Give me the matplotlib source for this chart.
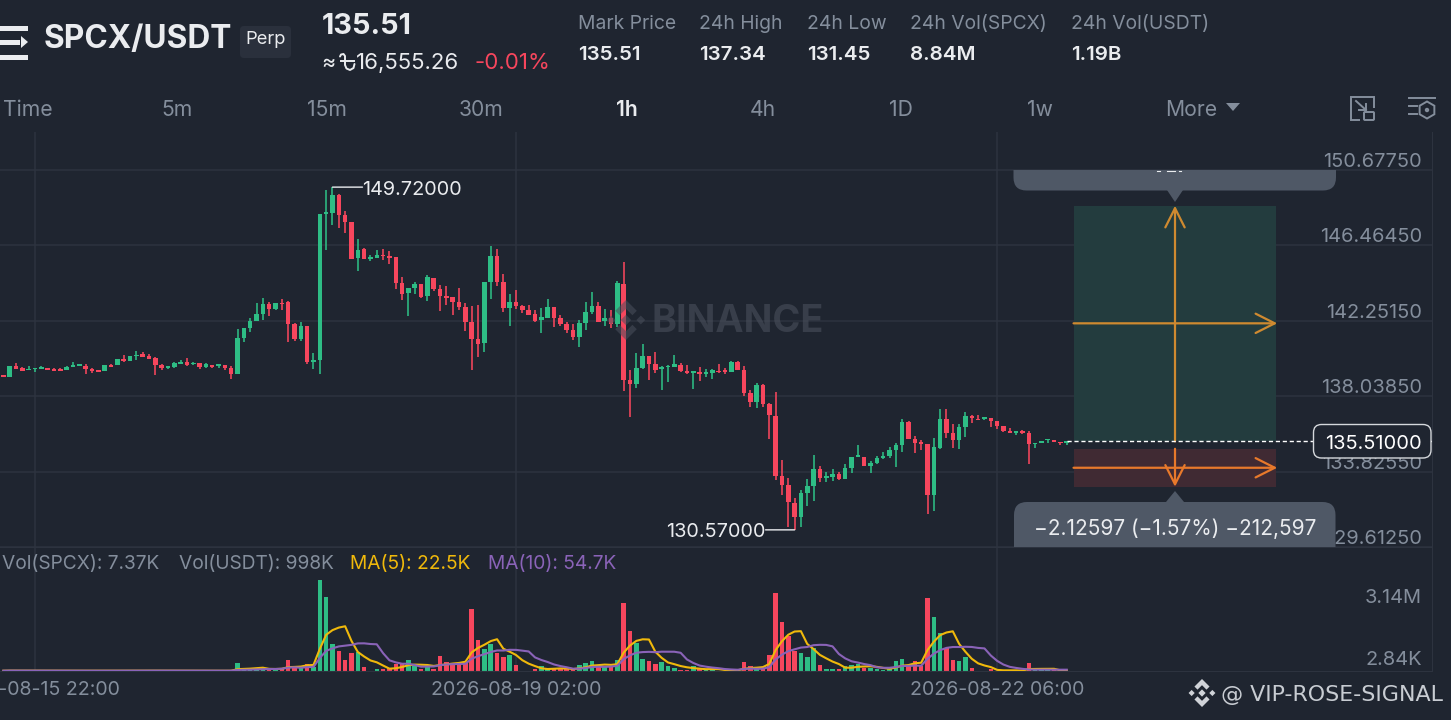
import numpy as np
import pandas as pd
import matplotlib
matplotlib.use('Agg')
import matplotlib.pyplot as plt
from matplotlib.patches import Circle, FancyBboxPatch, Polygon, Rectangle

plt.rcParams['font.family'] = ['Inter', 'Noto Sans', 'DejaVu Sans']

# candles, one hour each
opens = [139.21, 139.12, 139.75, 139.60, 139.51, 139.56, 139.56, 139.60, 139.56, 139.56,
         139.53, 139.68, 139.71, 139.75, 139.56, 139.51, 139.42, 139.77, 139.77, 140.14,
         140.01, 140.29, 140.38, 140.29, 140.16, 139.77, 139.64, 139.68, 139.86, 139.97,
         139.82, 139.88, 139.69, 139.79, 139.75, 139.77, 139.62, 139.29, 141.31, 141.85,
         142.22, 142.64, 143.18, 142.91, 143.27, 143.29, 142.06, 141.24, 141.97, 139.95,
         140.07, 148.24, 148.26, 149.26, 148.17, 147.78, 145.75, 146.25, 145.71, 145.75,
         145.93, 145.88, 145.82, 144.35, 143.79, 144.11, 144.33, 143.62, 144.67, 144.01,
         143.62, 143.60, 143.31, 143.03, 142.17, 141.24, 141.00, 144.44, 145.88, 144.40,
         142.95, 143.32, 143.08, 142.86, 142.62, 142.28, 142.43, 143.01, 142.43, 142.08,
         141.74, 141.35, 142.15, 142.77, 143.08, 142.26, 142.41, 142.08, 144.33, 138.95,
         138.71, 139.64, 140.29, 139.81, 139.54, 139.66, 139.66, 139.77, 139.43, 139.36,
         139.40, 139.27, 139.36, 139.47, 139.51, 139.38, 139.97, 139.51, 138.24, 137.72,
         138.67, 137.63, 136.94, 133.57, 133.08, 132.08, 131.31, 132.62, 133.03, 133.99,
         133.47, 133.55, 133.70, 133.42, 134.01, 134.63, 134.65, 134.13, 134.33, 134.57,
         134.70, 135.04, 135.32, 136.58, 135.67, 135.47, 135.35, 132.49, 135.17, 136.79,
         135.97, 135.60, 136.34, 136.92, 136.79, 136.79, 136.81, 136.64, 136.36, 136.08,
         135.97, 136.10, 135.99, 135.35, 135.43, 135.58, 135.58, 135.47, 135.41]
closes = [139.12, 139.75, 139.58, 139.47, 139.58, 139.64, 139.68, 139.51, 139.47, 139.45,
          139.69, 139.79, 139.82, 139.56, 139.47, 139.40, 139.77, 139.66, 140.12, 140.01,
          140.27, 140.36, 140.25, 140.14, 139.79, 139.60, 139.75, 139.88, 139.97, 139.79,
          139.92, 139.69, 139.81, 139.69, 139.82, 139.62, 139.29, 141.31, 141.87, 142.24,
          142.62, 143.18, 142.91, 143.27, 143.18, 142.06, 141.24, 141.97, 139.94, 140.05,
          148.22, 148.33, 149.26, 148.17, 147.78, 145.71, 146.21, 145.71, 145.80, 145.95,
          145.86, 145.78, 144.35, 143.77, 144.09, 144.33, 143.59, 144.70, 144.01, 143.66,
          143.55, 143.31, 143.03, 142.17, 141.24, 140.98, 144.44, 145.88, 144.40, 142.97,
          143.32, 143.08, 142.88, 142.60, 142.26, 142.45, 143.01, 142.41, 142.10, 141.72,
          141.35, 142.13, 142.77, 143.08, 142.21, 142.43, 142.10, 144.37, 138.95, 138.73,
          139.64, 140.29, 139.82, 139.51, 139.66, 139.75, 139.82, 139.42, 139.32, 139.47,
          139.29, 139.38, 139.49, 139.38, 139.38, 139.97, 139.51, 138.24, 137.72, 138.67,
          137.61, 136.96, 133.59, 133.08, 132.10, 131.31, 132.64, 133.03, 133.99, 133.47,
          133.59, 133.68, 133.42, 134.01, 134.63, 134.74, 134.13, 134.33, 134.57, 134.70,
          135.04, 135.32, 136.58, 135.67, 135.45, 135.35, 132.49, 135.19, 136.79, 135.97,
          135.60, 136.34, 136.92, 136.81, 136.71, 136.86, 136.66, 136.40, 136.08, 135.99,
          136.10, 136.01, 135.37, 135.45, 135.56, 135.67, 135.50, 135.41, 135.51]
highs = [139.23, 139.75, 139.90, 139.66, 139.73, 139.64, 139.71, 139.64, 139.60, 139.62,
         139.73, 139.96, 139.82, 139.84, 139.60, 139.53, 139.77, 139.84, 140.12, 140.33,
         140.27, 140.55, 140.51, 140.40, 140.21, 139.84, 139.75, 139.94, 140.07, 140.16,
         139.97, 139.88, 139.88, 139.79, 139.82, 139.77, 139.71, 141.80, 141.87, 142.39,
         143.23, 143.51, 143.29, 143.27, 143.45, 143.34, 142.11, 142.21, 141.97, 140.46,
         148.22, 149.54, 149.72, 149.32, 148.41, 147.78, 146.81, 146.30, 145.95, 146.19,
         146.25, 146.14, 145.82, 144.68, 144.09, 144.44, 144.33, 144.80, 144.67, 144.24,
         144.18, 143.60, 144.09, 143.23, 143.08, 143.16, 144.44, 146.45, 146.25, 144.87,
         143.75, 143.96, 143.14, 143.16, 142.84, 142.95, 143.45, 143.01, 142.60, 142.19,
         142.08, 142.30, 143.31, 143.86, 143.31, 142.90, 142.86, 144.46, 145.52, 139.51,
         140.44, 140.96, 140.29, 140.53, 139.73, 139.79, 140.36, 139.88, 139.77, 139.47,
         139.66, 139.58, 139.54, 139.82, 139.62, 140.03, 140.01, 139.71, 138.39, 138.76,
         138.72, 137.66, 138.30, 134.48, 133.47, 132.34, 132.80, 133.40, 134.76, 134.14,
         133.81, 133.96, 133.83, 134.26, 134.63, 135.32, 134.65, 134.44, 134.72, 134.93,
         135.19, 135.41, 136.75, 136.64, 135.80, 135.60, 135.35, 135.71, 137.33, 137.35,
         136.49, 136.49, 137.16, 137.00, 136.98, 136.86, 136.81, 136.64, 136.40, 136.25,
         136.10, 136.15, 136.08, 135.45, 135.56, 135.67, 135.58, 135.47, 135.51]
lows = [139.10, 139.12, 139.58, 139.47, 139.51, 139.40, 139.56, 139.51, 139.47, 139.45,
        139.53, 139.66, 139.71, 139.29, 139.34, 139.38, 139.42, 139.66, 139.77, 139.97,
        140.01, 140.07, 140.21, 140.14, 139.23, 139.51, 139.58, 139.62, 139.86, 139.75,
        139.79, 139.56, 139.62, 139.62, 139.64, 139.51, 139.01, 139.29, 141.09, 141.63,
        142.22, 142.32, 142.54, 142.86, 142.84, 141.07, 141.13, 141.13, 139.84, 139.58,
        139.30, 146.21, 147.59, 147.46, 147.14, 145.69, 145.06, 145.71, 145.61, 145.75,
        145.65, 145.45, 144.05, 143.40, 142.54, 143.73, 143.55, 143.38, 143.94, 142.82,
        143.14, 142.60, 142.88, 141.70, 139.53, 140.25, 140.51, 143.49, 144.18, 142.75,
        141.98, 142.93, 142.67, 142.60, 142.21, 141.59, 142.39, 141.89, 141.95, 141.59,
        141.20, 140.81, 141.74, 142.62, 142.19, 141.98, 141.87, 141.89, 138.35, 136.90,
        138.48, 139.54, 138.95, 139.32, 138.39, 138.85, 139.66, 139.38, 139.27, 138.45,
        138.91, 139.12, 139.01, 139.36, 139.29, 139.38, 139.51, 138.05, 137.44, 137.40,
        137.46, 135.67, 133.36, 132.52, 130.72, 130.57, 130.72, 131.93, 132.21, 133.27,
        133.27, 133.31, 133.38, 133.42, 133.73, 134.63, 134.13, 133.73, 134.26, 134.52,
        134.57, 134.07, 134.94, 135.67, 134.89, 135.04, 131.46, 131.63, 135.07, 135.73,
        135.15, 135.09, 135.78, 136.56, 136.71, 136.71, 136.32, 136.23, 136.04, 135.99,
        135.89, 135.93, 134.24, 135.15, 135.43, 135.41, 135.50, 135.32, 135.32]
# volume in thousands of SPCX
volumes = [12, 22, 15, 10, 10, 14, 8, 10, 8, 9,
           14, 16, 10, 18, 12, 9, 16, 10, 18, 14,
           14, 16, 14, 12, 24, 16, 10, 14, 12, 18,
           10, 14, 10, 9, 10, 12, 20, 332, 58, 72,
           115, 115, 87, 29, 115, 462, 159, 159, 303, 188,
           3824, 3102, 1140, 837, 462, 765, 779, 188, 14, 72,
           87, 130, 274, 274, 447, 216, 101, 216, 87, 620,
           361, 274, 346, 346, 2583, 1284, 938, 1111, 736, 591,
           664, 245, 20, 14, 87, 202, 87, 87, 72, 87,
           72, 231, 317, 433, 173, 188, 173, 462, 2843, 1659,
           1169, 505, 418, 289, 375, 202, 144, 29, 29, 202,
           87, 29, 58, 20, 20, 25, 20, 361, 202, 87,
           144, 678, 3261, 2049, 1457, 822, 750, 591, 967, 245,
           101, 72, 72, 202, 245, 289, 130, 130, 72, 29,
           101, 404, 505, 202, 404, 216, 3045, 2265, 1573, 967,
           462, 404, 606, 115, 14, 14, 72, 20, 14, 14,
           15, 20, 346, 40, 25, 25, 25, 30, 7.37]

price_ticks = [150.6775, 146.4645, 142.2515, 138.0385, 133.8255, 129.6125]
price_labels = ['150.67750', '146.46450', '142.25150', '138.03850', '133.82550', '129.61250']
time_ticks = [5, 81, 157]
time_labels = ['2026-08-15 22:00', '2026-08-19 02:00', '2026-08-22 06:00']
vol_ticks = [3140, 544]
vol_labels = ['3.14M', '2.84K']

last_price = 135.51
target_price = 148.68
stop_price = 132.98
entry_gap_price = 135.10
tool_start, tool_end, tool_mid = 169.07, 201.05, 185.1
target_line, stop_line = 142.11, 134.04

BG = '#1f2530'
GRID = '#2d333f'
GREEN = '#2ebd85'
RED = '#f6465d'
GREY = '#848e9c'
WHITE = '#eaecef'
ORANGE = '#cf8a30'
ORANGE2 = '#e8792b'
BUBBLE = '#4f5866'

W, H = 1451, 720
fig = plt.figure(figsize=(W / 100, H / 100), dpi=100, facecolor=BG)


def px_axes(left, top, right, bottom):
    return fig.add_axes([left / W, 1 - bottom / H, (right - left) / W, (bottom - top) / H])


ax = px_axes(0, 132, 1432, 547)
ax_vol = px_axes(0, 547, 1432, 671)
ui = px_axes(0, 0, W, H)
ui.set_xlim(0, W)
ui.set_ylim(H, 0)
ui.axis('off')
ui.patch.set_alpha(0)

idx = np.arange(len(opens))
opens = np.array(opens)
closes = np.array(closes)
colors = np.where(closes >= opens, GREEN, RED)

# price panel
ax.set_facecolor(BG)
ax.set_xlim(-0.526, 225.7)
ax.set_ylim(129.6125, 152.80)
ax.set_xticks([])
ax.set_yticks([])
for tick in price_ticks:
    ax.axhline(tick, color=GRID, lw=1.1, zorder=1)
for tick in time_ticks:
    ax.axvline(tick, color=GRID, lw=1.1, zorder=1)
for name in ['top', 'left', 'bottom']:
    ax.spines[name].set_visible(False)
ax.spines['right'].set_color(GRID)

ax.vlines(idx, lows, highs, colors=colors, lw=1.15, zorder=3)
ax.bar(idx, np.abs(closes - opens), bottom=np.minimum(opens, closes), width=0.72, color=colors, zorder=4)

for tick, label_text in zip(price_ticks, price_labels):
    ax.annotate(label_text, xy=(1, tick), xycoords=('axes fraction', 'data'), xytext=(-10, 8),
                textcoords='offset pixels', ha='right', va='center', color=GREY, fontsize=14.4)

# high / low labels, leader drawn apart so it stays level
leader = dict(arrowstyle='-', color=WHITE, lw=1, shrinkA=0, shrinkB=0)
ax.annotate('', xy=(52, max(highs)), xytext=(30, 0), textcoords='offset pixels', arrowprops=leader)
ax.annotate('149.72000', xy=(52, max(highs)), xytext=(30, -2.5), textcoords='offset pixels', ha='left', va='center',
            color=WHITE, fontsize=14.3)
ax.annotate('', xy=(125, min(lows)), xytext=(-29, 0), textcoords='offset pixels', arrowprops=leader)
ax.annotate('130.57000', xy=(125, min(lows)), xytext=(-29, -2.5), textcoords='offset pixels', ha='right', va='center',
            color=WHITE, fontsize=14.3)

# position tool
ax.fill_between([tool_start, tool_end], last_price, target_price, color='#233c3e', lw=0, zorder=2)
ax.fill_between([tool_start, tool_end], stop_price, entry_gap_price, color='#402a33', lw=0, zorder=2)
head = '->,head_length=1.15,head_width=0.58'
for start, end, color in [((tool_start, target_line), (tool_end + 0.2, target_line), ORANGE),
                          ((tool_mid, last_price), (tool_mid, target_price), ORANGE),
                          ((tool_start, stop_line), (tool_end + 0.2, stop_line), ORANGE2),
                          ((tool_mid, entry_gap_price), (tool_mid, stop_price), ORANGE2)]:
    ax.annotate('', xy=end, xytext=start, zorder=5,
                arrowprops=dict(arrowstyle=head, mutation_scale=12, color=color, lw=1.6, shrinkA=0, shrinkB=0))
ax.plot([len(opens) - 1, 225.7], [last_price, last_price], color='white', lw=1, ls=(0, (3, 2)), zorder=6)

# volume panel
ax_vol.set_facecolor(BG)
ax_vol.set_xlim(-0.526, 225.7)
ax_vol.set_ylim(0, 5192)
ax_vol.set_xticks([])
ax_vol.set_yticks([])
for tick in time_ticks:
    ax_vol.axvline(tick, color=GRID, lw=1.1, zorder=1)
ax_vol.spines['left'].set_visible(False)
for name in ['top', 'right', 'bottom']:
    ax_vol.spines[name].set_color(GRID)
ax_vol.bar(idx, volumes, width=0.72, color=colors, zorder=2)
vol_series = pd.Series(volumes)
ax_vol.plot(idx, vol_series.rolling(5, min_periods=1).mean(), color='#f0b90b', lw=1.5, zorder=3)
ax_vol.plot(idx, vol_series.rolling(10, min_periods=1).mean(), color='#8a63b8', lw=1.5, zorder=4)
for tick, label_text in zip(vol_ticks, vol_labels):
    ax_vol.annotate(label_text, xy=(1, tick), xycoords=('axes fraction', 'data'), xytext=(-10, -2),
                    textcoords='offset pixels', ha='right', va='center', color=GREY, fontsize=14.4)
for tick, label_text in zip(time_ticks, time_labels):
    ax_vol.annotate(label_text, xy=(tick, 0), xycoords='data', xytext=(0, -19), textcoords='offset pixels',
                    ha='center', va='center', color=GREY, fontsize=14.1, annotation_clip=False)


def label(x, y, text, color=GREY, size=14.2, ha='left', weight='normal', zorder=10, **kw):
    # inter sits about 2px high when centred
    return ui.text(x, y + 2, text, color=color, fontsize=size, ha=ha, va='center', weight=weight, zorder=zorder, **kw)


def binance_logo(cx, cy, r, color, alpha=1.0, zorder=8):
    top = [(0, 1), (0.54, 0.46), (0.32, 0.24), (0, 0.56), (-0.32, 0.24), (-0.54, 0.46)]
    diamonds = [(0, 0, 0.26), (0.74, 0, 0.22), (-0.74, 0, 0.22)]
    for sign in [1, -1]:
        pts = [(cx + x * r, cy + sign * y * r) for x, y in top]
        ui.add_patch(Polygon(pts, color=color, alpha=alpha, lw=0, zorder=zorder))
    for dx, dy, d in diamonds:
        pts = [(cx + (dx + d) * r, cy), (cx + dx * r, cy + d * r), (cx + (dx - d) * r, cy), (cx + dx * r, cy - d * r)]
        ui.add_patch(Polygon(pts, color=color, alpha=alpha, lw=0, zorder=zorder))


# watermark
binance_logo(626, 320, 20, '#4a505c', alpha=0.55)
label(652, 320, 'BINANCE', color='#4a505c', size=27.2, weight='bold', alpha=0.6, zorder=8)

# callouts of the position tool
top_clip = Rectangle((1000, 170), 360, 40, transform=ui.transData)
bubble = FancyBboxPatch((1013.5, 140), 322.5, 50.5, boxstyle='round,pad=0,rounding_size=13', fc=BUBBLE, ec='none', zorder=6)
ui.add_patch(bubble)
bubble.set_clip_path(top_clip)
ui.add_patch(Polygon([(1167, 190), (1183, 190), (1175, 202)], color=BUBBLE, lw=0, zorder=6))
# bottom of the text that the chart cut away
for x0, x1 in [(1157, 1160), (1167, 1175), (1179, 1181)]:
    ui.plot([x0, x1], [171, 171], color=WHITE, lw=0.8, zorder=7)
bottom_clip = Rectangle((1000, 480), 360, 67, transform=ui.transData)
bubble = FancyBboxPatch((1014, 502), 321.5, 70, boxstyle='round,pad=0,rounding_size=13', fc=BUBBLE, ec='none', zorder=6)
ui.add_patch(bubble)
bubble.set_clip_path(bottom_clip)
ui.add_patch(Polygon([(1166, 502), (1184, 502), (1175, 491)], color=BUBBLE, lw=0, zorder=6))
label(1175, 527, '\u22122.12597 (\u22121.57%) \u2212212,597', color=WHITE, size=15.0, ha='center')

# current price tag
ui.add_patch(FancyBboxPatch((1313.5, 424.5), 117.5, 33.5, boxstyle='round,pad=0,rounding_size=8', fc=BG, ec='#d5d8dc', lw=1, zorder=7))
label(1422, 442, '135.51000', color='white', size=14.4, ha='right')

# volume legend
label(2, 562, 'Vol(SPCX): 7.37K', size=13.8)
label(179, 562, 'Vol(USDT): 998K', size=13.8)
label(350, 562, 'MA(5): 22.5K', color='#f0b90b', size=13.8)
label(488, 562, 'MA(10): 54.7K', color='#8a63b8', size=13.8)

# header
for y0, y1, x1 in [(26, 31, 28), (39.5, 45, 20), (55, 60, 28)]:
    ui.add_patch(Rectangle((0, y0), x1, y1 - y0, color=WHITE, lw=0))
ui.add_patch(Polygon([(21, 36), (28, 42), (21, 48)], color=WHITE, lw=0))
label(44, 38, 'SPCX/USDT', color=WHITE, size=22.8, weight='bold')
ui.add_patch(FancyBboxPatch((240, 26), 51, 32, boxstyle='round,pad=0,rounding_size=4', fc='#2a303c', ec='none'))
label(265.5, 37, 'Perp', color=WHITE, size=13.2, ha='center')
label(322, 25, '135.51', color=WHITE, size=20.8, weight='bold')
label(321, 61, '\u2248', color=WHITE, size=15.5)
# the taka sign is in none of the installed fonts, so it is drawn
ui.plot([340, 341, 343.5, 345, 345, 346.5, 350, 353.5, 354.5], [56.5, 54.5, 54, 56, 65, 68.5, 70, 68, 64],
        color=WHITE, lw=1.4, solid_capstyle='round')
ui.plot([340.5, 354], [60.5, 60.5], color=WHITE, lw=1.4)
label(356, 61, '16,555.26', color=WHITE, size=16)
label(474, 61, '-0.01%', color=RED, size=16)

stat_x = [578, 699, 807, 910, 1071]
stat_names = ['Mark Price', '24h High', '24h Low', '24h Vol(SPCX)', '24h Vol(USDT)']
stat_values = ['135.51', '137.34', '131.45', '8.84M', '1.19B']
for x, name, value in zip(stat_x, stat_names, stat_values):
    label(x, 22, name, size=13.9)
    label(x, 53, value, color=WHITE, size=14.8, weight='semibold')

# timeframe tabs
tab_names = ['5m', '15m', '30m', '1h', '4h', '1D', '1w']
tab_x = [177, 327, 481, 627, 763, 901, 1040]
label(3, 108, 'Time', size=15.2)
for x, name in zip(tab_x, tab_names):
    if name == '1h':
        label(x, 108, name, color=WHITE, size=15.2, ha='center', weight='semibold')
    else:
        label(x, 108, name, size=15.2, ha='center')
label(1165, 108, 'More', size=15.2)
ui.add_patch(Polygon([(1226, 103), (1240, 103), (1233, 111)], color=GREY, lw=0))

# toolbar icons
ui.add_patch(Polygon([(1360, 120), (1351, 120), (1351, 97), (1374, 97), (1374, 108)], fill=False, ec=GREY, lw=1.4, closed=False))
ui.add_patch(FancyBboxPatch((1364, 112), 10, 8, boxstyle='round,pad=0,rounding_size=1', fill=False, ec=GREY, lw=1.4))
ui.plot([1356, 1366], [101, 110], color=GREY, lw=1.4)
ui.plot([1366, 1366, 1359], [104, 110, 110], color=GREY, lw=1.4)
ui.plot([1409, 1435], [98, 98], color=GREY, lw=1.4)
ui.plot([1409, 1417], [106, 106], color=GREY, lw=1.4)
ui.plot([1409, 1417], [114, 114], color=GREY, lw=1.4)
hex_angles = np.radians(np.arange(30, 390, 60))
ui.add_patch(Polygon(np.column_stack([1427 + 8.5 * np.cos(hex_angles), 110 + 8.5 * np.sin(hex_angles)]),
                     fill=False, ec=GREY, lw=1.4))
ui.add_patch(Circle((1427, 110), 2.2, color=GREY, lw=0))

# footer
binance_logo(1202, 693, 14, '#d0d3d8')
label(1221, 693, '@ VIP-ROSE-SIGNAL', color='#c8ccd2', size=15.9, family='DejaVu Sans')

fig.savefig('out.png', dpi=100, facecolor=BG)
